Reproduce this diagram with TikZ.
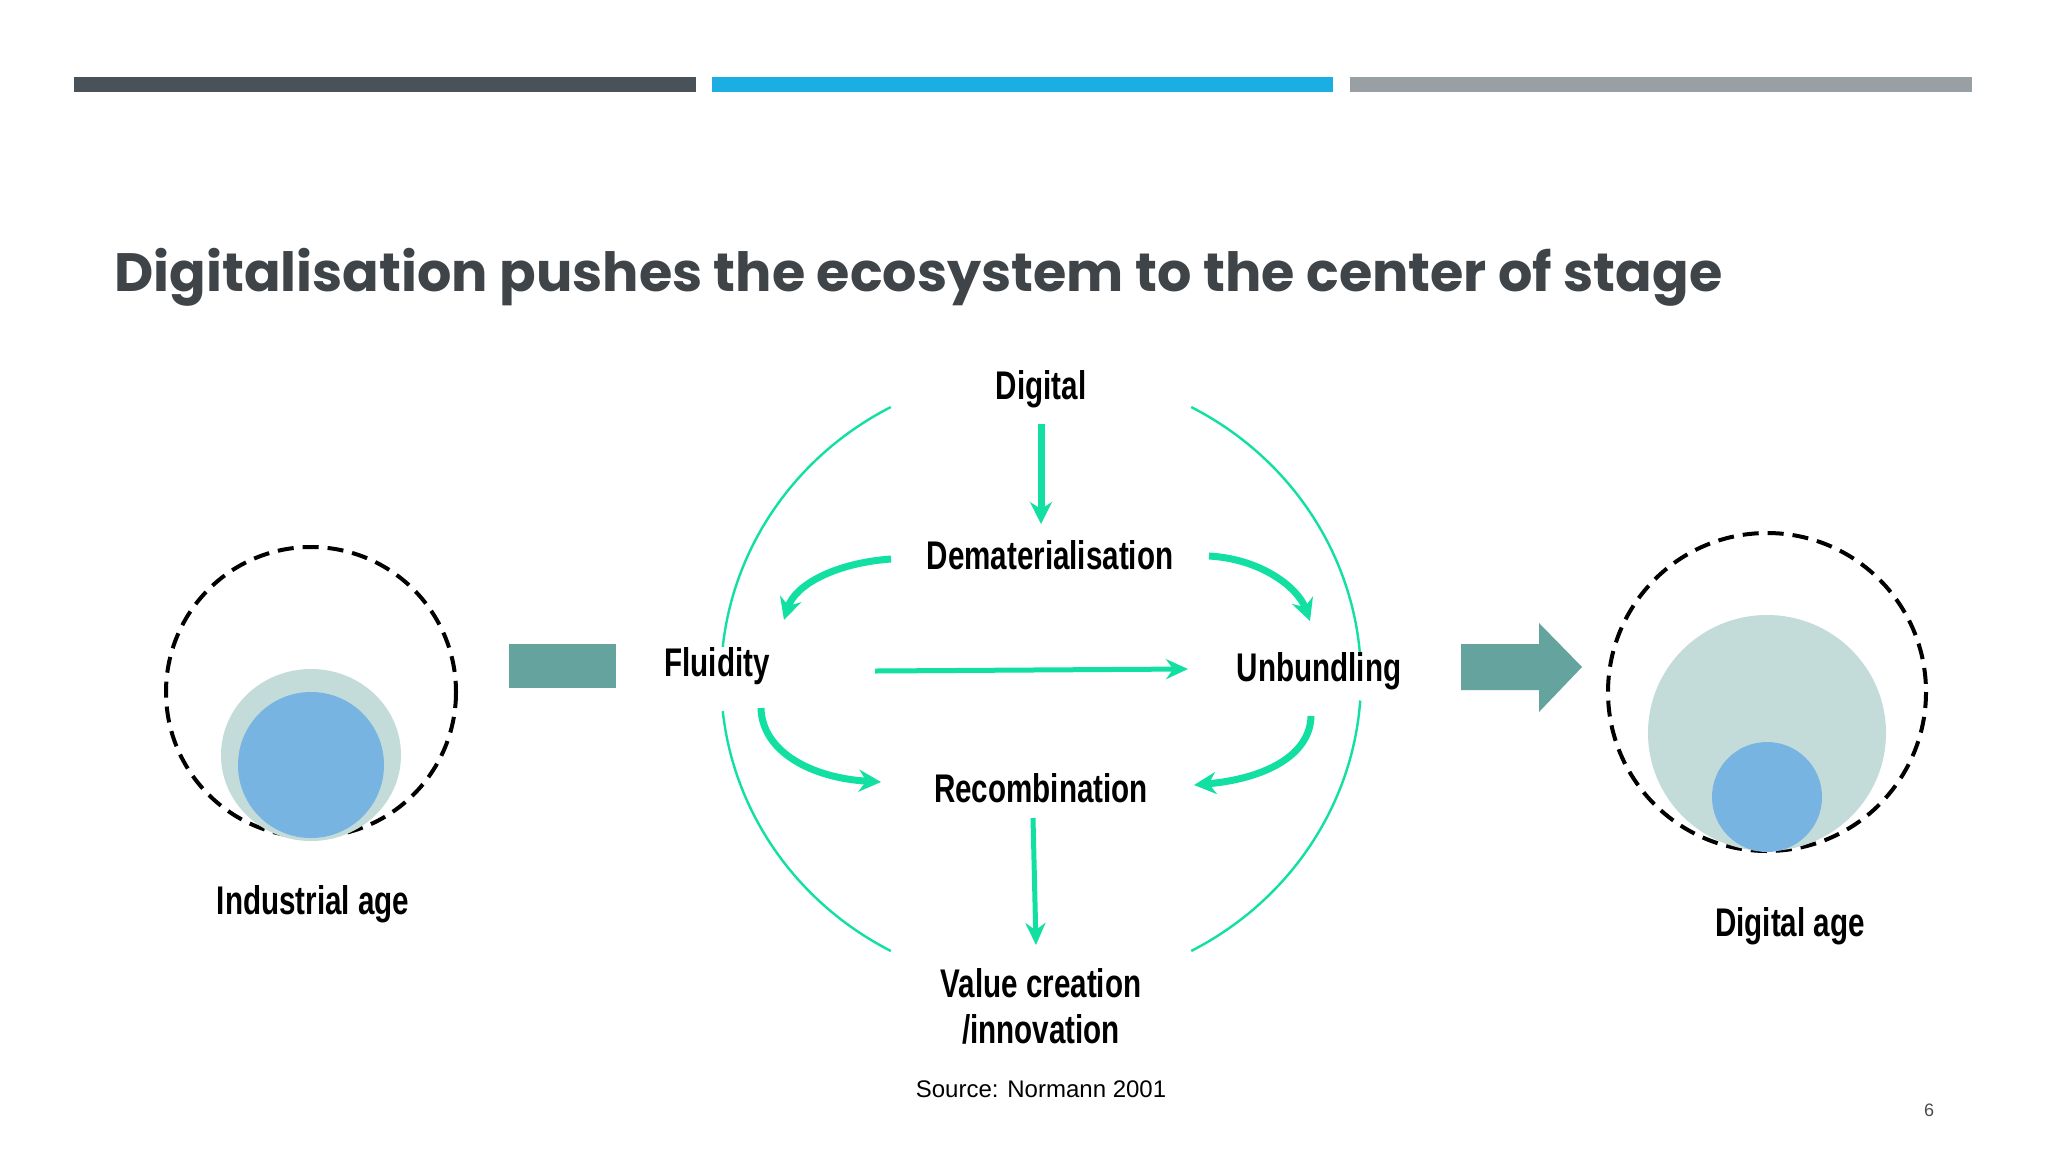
\documentclass[tikz,border=0pt]{standalone}
\usepackage{fontspec}
\setmainfont{Liberation Sans}
\newfontfamily\titlefont{Poppins}
\newfontfamily\condfont[FakeStretch=0.74]{Liberation Sans Bold}
\usetikzlibrary{arrows.meta,calc}
\definecolor{barA}{HTML}{4A5259}
\definecolor{barB}{HTML}{1AAEE3}
\definecolor{barC}{HTML}{98A0A4}
\definecolor{titlec}{HTML}{3F4449}
\definecolor{mint}{HTML}{12E0A2}
\definecolor{tealc}{HTML}{65A39E}
\definecolor{lightc}{HTML}{C3DBD9}
\definecolor{bluec}{HTML}{78B4E2}
\tikzset{
  lbl/.style={font=\condfont\fontsize{20}{23}\selectfont, text=black, align=center, inner sep=0pt},
  ring/.style={draw=mint, line width=1.2pt},
  flow/.style={draw=mint, line width=3.5pt, -{Stealth[length=11pt,width=11pt]}},
  flowthin/.style={draw=mint, line width=2.5pt, -{Stealth[length=11pt,width=10pt]}},
  dashring/.style={draw=black, line width=2pt, dash pattern=on 8pt off 4.5pt},
}
\begin{document}
\begin{tikzpicture}[x=0.5pt,y=-0.5pt]
\useasboundingbox (0,0) rectangle (2048,1152);
\fill[white] (0,0) rectangle (2048,1152);
% top bars
\fill[barA] (74,77) rectangle (696,92);
\fill[barB] (712,77) rectangle (1333,92);
\fill[barC] (1350,77) rectangle (1972,92);
% title
\node[anchor=west, inner sep=0pt, text=titlec, font=\titlefont\bfseries\fontsize{27}{32}\selectfont] (title) at (114,277) {Digitalisation pushes the ecosystem to the center of stage};
% left group
\draw[dashring] (311,692) circle (145);
\fill[lightc] (311,755) ellipse (90 and 86);
\fill[bluec] (311,765) circle (73);
\node[lbl] (ind) at (313,904) {Industrial age};
% right group
\draw[dashring] (1767,692) circle (159);
\fill[lightc] (1767,733) ellipse (119 and 118);
\fill[bluec] (1767,797) circle (55);
\node[lbl] (dig) at (1790,926) {Digital age};
% block shapes
\fill[tealc] (509,644) rectangle (616,688);
\fill[tealc] (1461,644) -- (1539,644) -- (1539,623) -- (1582,667) -- (1539,712) -- (1539,690) -- (1461,690) -- cycle;
% ring arcs
\coordinate (c) at (1041,679);
\draw[ring] ($(c)+(118:320 and 308)$) arc (118:174:320 and 308);
\draw[ring] ($(c)+(186:320 and 308)$) arc (186:242:320 and 308);
\draw[ring] ($(c)+(-62:320 and 308)$) arc (-62:-5:320 and 308);
\draw[ring] ($(c)+(4:320 and 308)$) arc (4:62:320 and 308);
% labels
\node[lbl] (digital) at (1041,389) {Digital};
\node[lbl] (demat) at (1050,555) {Dematerialisation};
\node[lbl] (fluid) at (717,666) {Fluidity};
\node[lbl] (unb) at (1319,671) {Unbundling};
\node[lbl] (recomb) at (1041,788) {Recombination};
\node[lbl] (value) at (1041,1006) {Value creation\\/innovation};
\node[inner sep=0pt, font=\fontsize{12}{14}\selectfont] (src) at (1041,1089) {Source: Normann 2001};
\node[inner sep=0pt, font=\fontsize{9}{11}\selectfont, text=black!70] (pg) at (1929,1110) {6};
% arrows
\coordinate (a1) at (1041,424); \coordinate (a2) at (1041,524);
\draw[flow] (a1) -- (a2);
\coordinate (b1) at (891,559); \coordinate (b2) at (784,620);
\draw[flow] (b1) .. controls (835,563) and (795,585) .. (b2);
\coordinate (d1) at (1209,556); \coordinate (d2) at (1310,621);
\draw[flow] (d1) .. controls (1262,559) and (1298,588) .. (d2);
\coordinate (e1) at (875,671); \coordinate (e2) at (1188,669);
\draw[flowthin] (e1) -- (e2);
\coordinate (f1) at (761,708); \coordinate (f2) at (881,782);
\draw[flow] (f1) .. controls (762,752) and (812,778) .. (f2);
\coordinate (g1) at (1311,716); \coordinate (g2) at (1194,785);
\draw[flow] (g1) .. controls (1310,757) and (1262,779) .. (g2);
\coordinate (h1) at (1033,818); \coordinate (h2) at (1036,945);
\draw[flowthin] (h1) -- (h2);
\end{tikzpicture}
\end{document}
